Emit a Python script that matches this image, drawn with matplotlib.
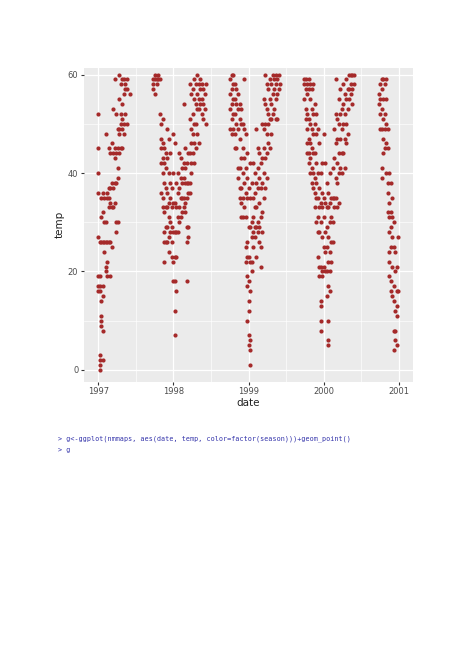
import matplotlib
matplotlib.use("Agg")
import matplotlib.pyplot as plt
import numpy as np

# dates (decimal year) and the temperatures observed at each date
dates = [1997.00,1997.02,1997.04,1997.06,1997.08,1997.10,1997.12,1997.14,1997.16,1997.18,1997.20,1997.22,1997.24,1997.26,1997.28,1997.30,1997.32,1997.34,1997.36,1997.38,1997.42,
 1997.73,1997.75,1997.78,1997.80,1997.82,1997.84,1997.86,1997.88,1997.90,1997.92,1997.94,1997.96,1997.98,1998.00,1998.02,1998.04,1998.06,1998.08,1998.10,1998.12,1998.14,1998.16,1998.18,1998.20,1998.22,1998.24,1998.26,1998.28,1998.30,1998.32,1998.34,1998.36,1998.38,1998.40,1998.42,1998.44,
 1998.76,1998.78,1998.80,1998.82,1998.84,1998.86,1998.88,1998.90,1998.92,1998.94,1998.96,1998.98,1999.00,1999.02,1999.04,1999.06,1999.08,1999.10,1999.12,1999.14,1999.16,1999.18,1999.20,1999.22,1999.24,1999.26,1999.28,1999.30,1999.32,1999.34,1999.36,1999.38,1999.40,1999.42,
 1999.74,1999.76,1999.78,1999.80,1999.82,1999.84,1999.86,1999.88,1999.90,1999.92,1999.94,1999.96,1999.98,2000.00,2000.02,2000.04,2000.06,2000.08,2000.10,2000.12,2000.14,2000.16,2000.18,2000.20,2000.22,2000.24,2000.26,2000.28,2000.30,2000.32,2000.34,2000.36,2000.38,2000.40,
 2000.73,2000.75,2000.77,2000.79,2000.81,2000.83,2000.85,2000.87,2000.89,2000.91,2000.93,2000.95,2000.97,2000.99]
temps = [[52,45,40,36,27,19,17,16],[26,19,17,16,3,1,2,0],[35,31,26,14,10,9,11],[36,32,26,17,15,8,2],[35,30,26,24],[48,30,26,21,20],[36,35,26,22,19],[45,37,35,33,26],[44,37,34,26,19],[46,38,33,25],[53,44,37,33],[59,45,43,38,34],[52,44,38,30,28],[49,45,41,39,30],[60,55,49,48,44],[58,52,50,45],[59,54,51,49,45],[59,56,50,48],[58,57,52],[59,57,50],[56],
 [59,58,57],[60,59,56],[59,58],[60,59],[59,52],[50,47,45,42,36],[51,46,43,40,35,33],[45,42,38,32,28,26,22],[44,41,37,33,29,26],[49,43,36,33,29,26],[47,40,34,31,27,24],[44,38,35,30,28],[37,33,29,26,23],[48,40,34,28,22,18],[46,34,28,23,18,12,7],[38,33,28,23,16],[40,36,31,28],[44,37,33,30],[43,39,35,31],[41,38,35,32],[54,42,39,35,33],[45,41,38,34,32],[42,38,35,29,26,18],[44,38,36,29,27],[58,51,44,38,36],[56,49,46,42,40],[57,52,48,44],[59,55,50,46,42],[58,54,50,45],[60,56,53,48],[58,55,53,46],[59,57,54],[58,55,52],[57,54,51],[56,53],[58,50],
 [59,56,53,49],[60,57,54,51,48],[60,58,55,52,49],[58,55,52,48,45],[57,54,50,45],[56,53,49,41,39],[54,51,47,41,37,35],[53,50,43,37,34,31],[50,45,40,35,31],[59,49,43,38,33],[48,41,36,31,25,22],[44,39,35,26,23,19,17,10],[37,29,23,18,14,12,7,5],[42,35,29,22,16,6,4,1],[38,30,27,22,20],[42,35,31,28,25],[40,36,33,29,27],[49,38,33,29,23],[45,41,37,30,28],[44,39,34,29,26],[42,37,31,25,21],[50,43,38,32,28],[55,49,45,40,35],[60,54,50,43,37],[58,53,48,44,39],[57,52,50,46],[59,55,51,45],[58,54,51,48],[60,56,52],[59,57,53],[60,58,55,51],[59,56,51],[60,57],[58],
 [59,58,55],[59,57,53,51],[58,56,52,49,46,44],[59,57,51,47,44,42],[58,55,50,46,43,40],[57,53,49,45,41,38],[58,52,48,44,40,37],[54,50,44,39,36,33],[52,48,42,38,35,30],[49,40,35,31,28,23],[46,37,33,28,21,19],[40,34,30,21,14,13,10,8],[42,36,33,27,20,19],[48,35,31,25,21],[42,34,28,24,20],[38,33,29,25,20,15],[36,33,27,22,17,10,6,5],[40,34,30,24,20,16],[35,31,26,22],[41,35,30,26],[49,43,35,33],[59,52,46,39,35],[51,47,42,38,33],[55,50,44,40,34],[57,52,47,41],[53,49,44,40],[58,54,50,44],[56,52,47,41],[59,55,50,46],[57,53,48],[60,57,55],[60,58,56],[60,57,54],[60,58],
 [56,54],[58,55,52,49],[59,57,53,49,41,39],[59,55,51,47,44],[58,52,49,45],[59,55,50,46,40],[49,45,38,36,32],[40,34,31,28,24,22,19],[38,32,29,25,18,16],[35,31,27,21,15],[30,25,17,14,8,4],[24,20,12,8,6],[21,16,13,11,5],[27,16]]
year_ticks = [1997, 1998, 1999, 2000, 2001]
temp_ticks = [0, 20, 40, 60]
code_lines = ["> g<-ggplot(nmmaps, aes(date, temp, color=factor(season)))+geom_point()", "> g"]

xs = [d for d, ts in zip(dates, temps) for _ in ts]
ys = [t for ts in temps for t in ts]

fig = plt.figure(figsize=(4.74, 6.70), dpi=100)
ax = fig.add_axes([0.177, 0.430, 0.694, 0.469])
ax.set_facecolor("#EBEBEB")
ax.scatter(xs, ys, s=9, color="#A52A2A", linewidths=0, zorder=3)
ax.set_xlim(1996.81, 2001.186)
ax.set_ylim(-2.44, 61.4)
ax.set_xticks(year_ticks)
ax.set_xticklabels([str(y) for y in year_ticks])
ax.set_yticks(temp_ticks)
ax.set_xticks([1997.5, 1998.5, 1999.5, 2000.5], minor=True)
ax.set_yticks([10, 30, 50], minor=True)
ax.grid(which="major", color="white", lw=0.9)
ax.grid(which="minor", color="white", lw=0.45)
ax.set_axisbelow(True)
for s in ax.spines.values():
    s.set_visible(False)
ax.tick_params(which="major", length=2.5, color="#333333", labelsize=6, labelcolor="#4D4D4D", pad=1.5)
ax.tick_params(which="minor", length=0)
ax.set_xlabel("date", fontsize=7.5, color="#222222", labelpad=1)
ax.set_ylabel("temp", fontsize=7.5, color="#222222", labelpad=2)
fig.text(58/474, 1-439/670, code_lines[0], fontsize=4.9, family="DejaVu Sans Mono", color="#3333AA", va="center")
fig.text(58/474, 1-450/670, code_lines[1], fontsize=4.9, family="DejaVu Sans Mono", color="#3333AA", va="center")
fig.savefig("out.png", dpi=100, facecolor="white")
